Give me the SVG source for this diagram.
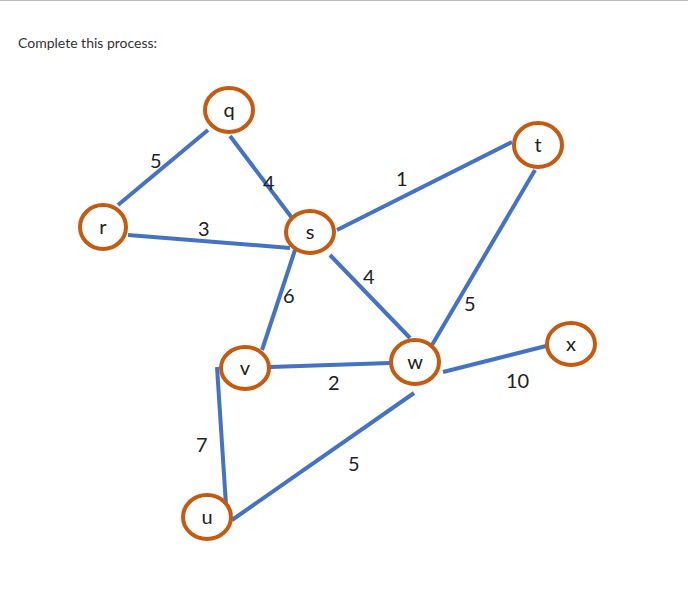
<svg xmlns="http://www.w3.org/2000/svg" width="688" height="599" viewBox="0 0 688 599">
<style>
.e{stroke:#4472C4;stroke-width:4;fill:none}
.n ellipse{fill:#fff;stroke:#C55A11;stroke-width:4}
text{font-family:Lato,"Liberation Sans",sans-serif;fill:#222}
.l{font-size:20px}
.n text{font-size:20px;text-anchor:middle}
</style>
<rect width="688" height="599" fill="#fff"/>
<line x1="0" y1="0.5" x2="688" y2="0.5" stroke="#bbb"/>
<text x="18" y="48" style="font-size:14px;fill:#333">Complete this process:</text>
<g id="edges">
<line class="e" x1="208" y1="130" x2="118" y2="205"/>
<line class="e" x1="230" y1="136" x2="292" y2="218"/>
<line class="e" x1="128" y1="235" x2="290" y2="248"/>
<line class="e" x1="337" y1="230" x2="512" y2="142"/>
<line class="e" x1="330" y1="255" x2="410" y2="338"/>
<line class="e" x1="295" y1="250" x2="262" y2="350"/>
<line class="e" x1="535" y1="170" x2="432" y2="345"/>
<line class="e" x1="270" y1="367" x2="390" y2="363"/>
<line class="e" x1="443" y1="372" x2="546" y2="346"/>
<line class="e" x1="217" y1="367" x2="226" y2="505"/>
<line class="e" x1="414" y1="393" x2="232" y2="520"/>
</g>
<g id="labels" class="l">
<text x="150" y="168">5</text>
<text x="263" y="190">4</text>
<text x="396" y="186">1</text>
<text x="198" y="236">3</text>
<text x="363" y="284">4</text>
<text x="283" y="303">6</text>
<text x="464" y="311">5</text>
<text x="328" y="390">2</text>
<text x="506" y="388">10</text>
<text x="196" y="452">7</text>
<text x="348" y="471">5</text>
</g>
<g id="q" class="n"><ellipse cx="229" cy="110" rx="24" ry="22"/><text x="229" y="117">q</text></g>
<g id="r" class="n"><ellipse cx="103" cy="227" rx="23" ry="22"/><text x="103" y="234">r</text></g>
<g id="s" class="n"><ellipse cx="310" cy="232" rx="24" ry="21"/><text x="310" y="239">s</text></g>
<g id="t" class="n"><ellipse cx="538" cy="145" rx="24" ry="22"/><text x="538" y="152">t</text></g>
<g id="v" class="n"><ellipse cx="245" cy="368" rx="24" ry="21"/><text x="245" y="375">v</text></g>
<g id="w" class="n"><ellipse cx="415" cy="362" rx="24" ry="22"/><text x="415" y="369">w</text></g>
<g id="x" class="n"><ellipse cx="571" cy="344" rx="24" ry="21"/><text x="571" y="351">x</text></g>
<g id="u" class="n"><ellipse cx="207" cy="517" rx="24" ry="22"/><text x="207" y="524">u</text></g>
</svg>
